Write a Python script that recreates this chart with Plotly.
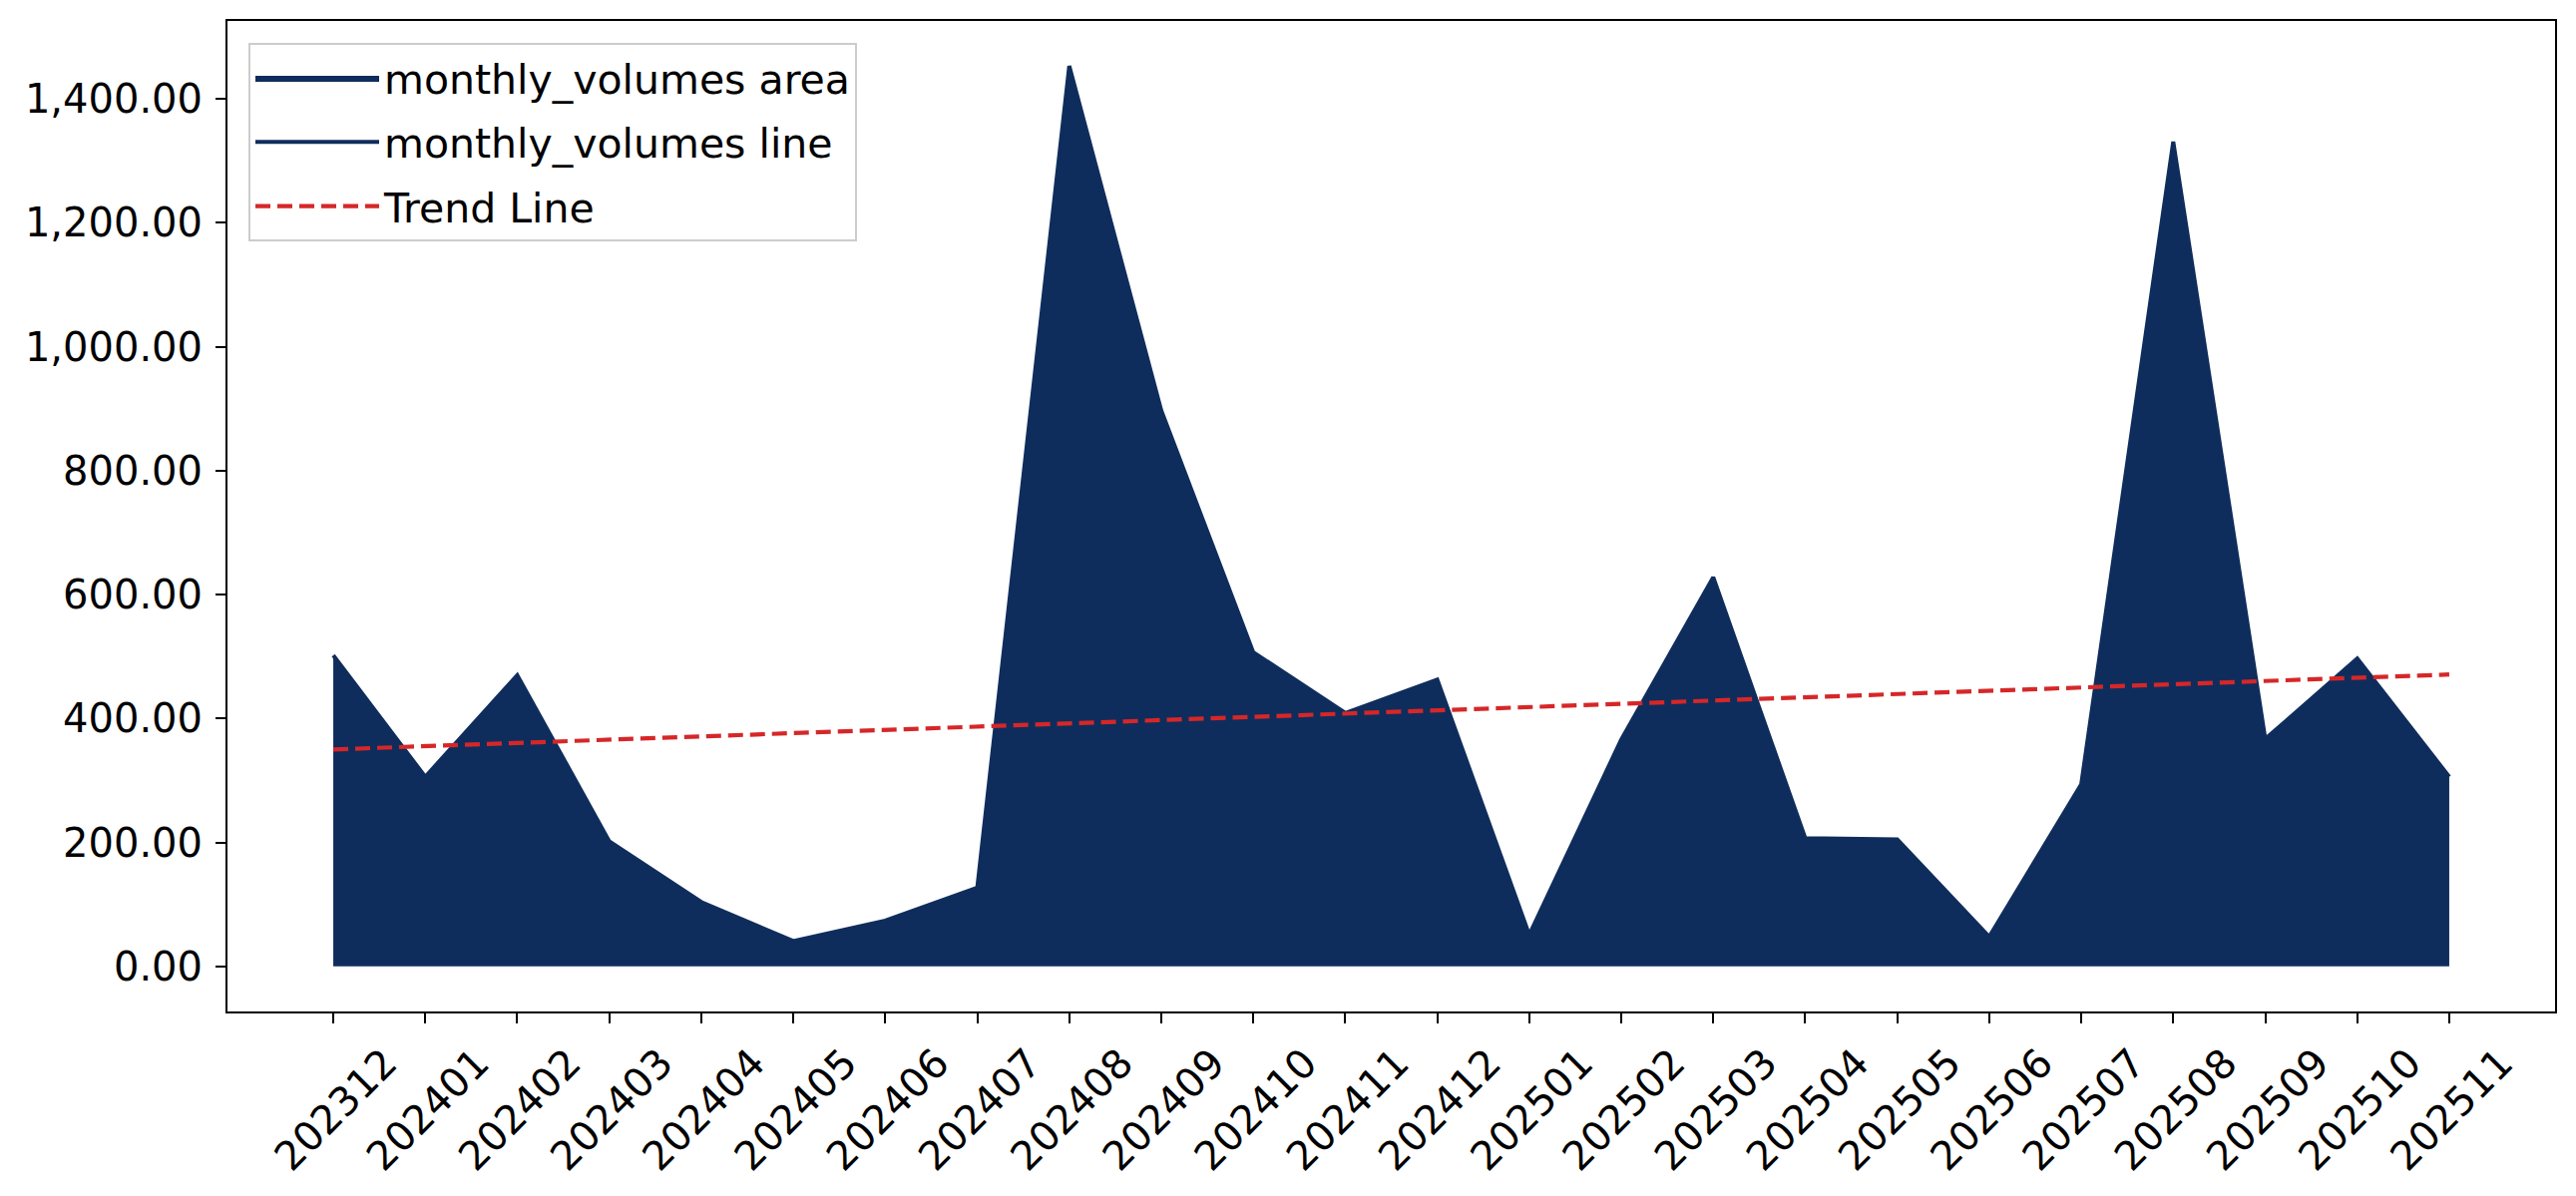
import numpy as np
import plotly.graph_objects as go

months = ["202312", "202401", "202402", "202403", "202404", "202405", "202406",
          "202407", "202408", "202409", "202410", "202411", "202412", "202501",
          "202502", "202503", "202504", "202505", "202506", "202507", "202508",
          "202509", "202510", "202511"]
monthly_volumes = [502, 306, 470, 202, 104, 41, 74, 127, 1453, 897, 507, 409,
                   463, 51, 366, 628, 207, 205, 48, 294, 1331, 367, 497, 306]

y_ticks = [0, 200, 400, 600, 800, 1000, 1200, 1400]

NAVY = "#0f2d5c"
RED = "#d62728"
FONT = "DejaVu Sans"
FS_TICK = 40
FS_LEG = 41

idx = np.arange(len(months))
slope, intercept = np.polyfit(idx, monthly_volumes, 1)
trend = slope * idx + intercept

fig = go.Figure()
fig.add_trace(go.Scatter(
    x=months, y=monthly_volumes, mode="lines", fill="tozeroy",
    fillcolor=NAVY, line=dict(width=0, color=NAVY),
    name="monthly_volumes area", legendgroup="a"))
fig.add_trace(go.Scatter(
    x=months, y=monthly_volumes, mode="lines",
    line=dict(width=4, color=NAVY), name="monthly_volumes line",
    legendgroup="b"))
fig.add_trace(go.Scatter(
    x=months, y=trend, mode="lines",
    line=dict(width=4.2, color=RED, dash="15px,7px"), name="Trend Line",
    legendgroup="c"))

ymax = max(monthly_volumes)
n = len(months)
fig.update_layout(
    width=2582, height=1199,
    margin=dict(l=228, r=21, t=21, b=185),
    paper_bgcolor="white", plot_bgcolor="white",
    font=dict(family=FONT, size=FS_TICK, color="black"),
    showlegend=True,
    legend=dict(x=0.009, y=0.978, xanchor="left", yanchor="top",
                bgcolor="rgba(255,255,255,0.8)", bordercolor="#cccccc",
                borderwidth=2, font=dict(family=FONT, size=FS_LEG),
                itemwidth=124, tracegroupgap=8, traceorder="grouped"),
    xaxis=dict(type="category", range=[-0.05 * (n - 1), (n - 1) * 1.05],
               showline=True, mirror=True, linecolor="black", linewidth=2,
               ticks="outside", ticklen=10, tickwidth=2, tickcolor="black",
               tickangle=-45, showgrid=False, zeroline=False,
               ticklabelshift=52,
               tickfont=dict(family=FONT, size=FS_TICK)),
    yaxis=dict(range=[-0.05 * ymax, 1.05 * ymax],
               tickvals=y_ticks, tickformat=",.2f",
               showline=True, mirror=True, linecolor="black", linewidth=2,
               ticks="outside", ticklen=10, tickwidth=2, tickcolor="black",
               showgrid=False, zeroline=False, ticklabelstandoff=5,
               tickfont=dict(family=FONT, size=FS_TICK)),
)

fig.write_html("out.html")
